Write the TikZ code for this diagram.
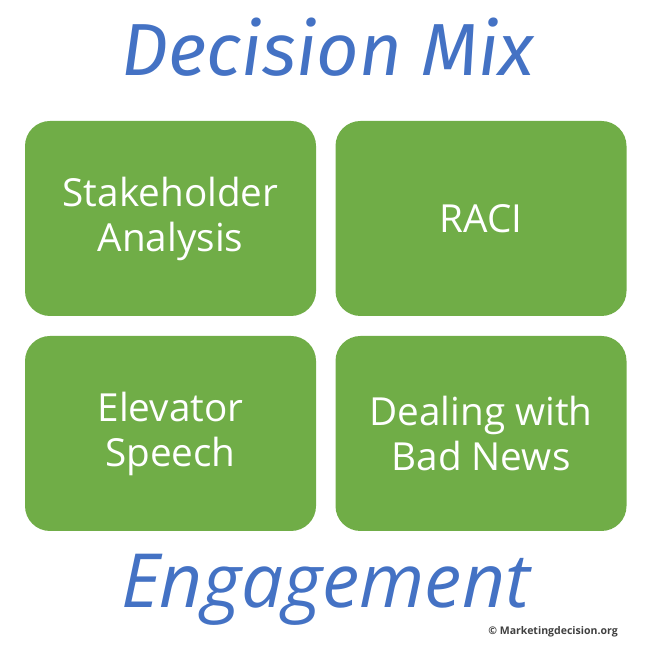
\documentclass[tikz,border=0pt]{standalone}
\usepackage{fontspec}
\setmainfont{Open Sans}
\newfontfamily\titlefont{Fira Sans}
\definecolor{mdgreen}{RGB}{112,173,71}
\definecolor{mdblue}{RGB}{68,114,196}
\definecolor{mdgray}{RGB}{64,64,64}
\usetikzlibrary{positioning}

\begin{document}
\begin{tikzpicture}[
  tile/.style={rounded corners=0.5cm, fill=mdgreen, text=white, minimum width=5.82cm, minimum height=3.9cm, align=center, font=\fontsize{22}{25.6}\selectfont},
  heading/.style={text=mdblue, font=\fontsize{42.5}{46}\selectfont\itshape}]
\useasboundingbox (0,0) rectangle (13,13);
\node[heading, font=\titlefont\fontsize{42}{46}\selectfont\itshape] (title) at (6.56,12.05) {Decision Mix};
\node[tile] (stake) at (3.41,8.63) {Stakeholder\\Analysis};
\node[tile] (raci) at (9.62,8.63) {RACI};
\node[tile] (elev) at (3.41,4.33) {Elevator\\Speech};
\node[tile] (bad) at (9.62,4.33) {Dealing with\\Bad News};
\node[heading] (engage) at (6.51,1.2) {Engagement};
\node[text=mdgray, font=\fontsize{6}{7}\selectfont\bfseries, anchor=east] (copy) at (12.48,0.36) {\textcopyright{} Marketingdecision.org};
\end{tikzpicture}
\end{document}
